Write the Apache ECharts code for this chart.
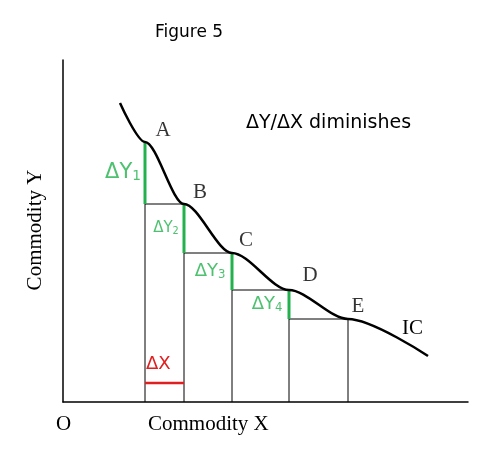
<!DOCTYPE html>
<html>
<head>
<meta charset="utf-8">
<title>Figure 5</title>
<script src="https://cdn.jsdelivr.net/npm/echarts@6/dist/echarts.min.js"></script>
</head>
<body style="margin:0">
<div id="main" style="width:495px;height:451px;"></div>
<script>
// indifference curve points (data units)
var curveX = [57, 82, 121, 169, 226, 285, 365];
var curveY = [299, 260, 198, 149, 112, 83, 46];
var ptNames = ['A', 'B', 'C', 'D', 'E'];
var ptX = [82, 121, 169, 226, 285];
var ptY = [260, 198, 149, 112, 83];
var dyLabels = ['1', '2', '3', '4'];
var dxY = 19;

var chart = echarts.init(document.getElementById('main'));
var serif = 'Liberation Serif';
var sans = 'DejaVu Sans';

var series = [];
function seg(a, b, color, w) {
  series.push({ type: 'line', data: [a, b], symbol: 'none', silent: true,
    lineStyle: { color: color, width: w } });
}
// staircase: verticals down to axis and horizontals
for (var i = 0; i < ptX.length; i++) {
  seg([ptX[i], ptY[i]], [ptX[i], 0], '#000', 1);
  if (i > 0) seg([ptX[i - 1], ptY[i]], [ptX[i], ptY[i]], '#000', 1);
}
// green delta Y segments
for (var i = 0; i < ptX.length - 1; i++) {
  seg([ptX[i], ptY[i]], [ptX[i], ptY[i + 1]], '#22b14c', 3);
}
// red delta X
seg([ptX[0], dxY], [ptX[1], dxY], '#e02020', 2.5);

// curve
series.push({ type: 'line', smooth: 0.3, smoothMonotone: 'x', symbol: 'none', silent: true,
  data: curveX.map(function (x, i) { return [x, curveY[i]]; }),
  lineStyle: { color: '#000', width: 2.5 } });

// point letters
var letterOff = [[18, -12], [16, -12], [14, -13], [21, -15], [10, -13]];
series.push({ type: 'scatter', symbolSize: 0, silent: true,
  data: ptX.map(function (x, i) {
    return { value: [x, ptY[i]], label: { show: true, formatter: ptNames[i],
      offset: letterOff[i], fontFamily: serif, fontSize: 21, color: '#000' } };
  })
});
// delta Y labels
var dyOff = [[-22, 0], [-18, 0], [-22, 0], [-22, 0]];
var dySize = [21, 15, 18, 18];
series.push({ type: 'scatter', symbolSize: 0, silent: true,
  data: dyLabels.map(function (s, i) {
    var fs = dySize[i];
    return { value: [ptX[i], (ptY[i] + ptY[i + 1]) / 2], label: { show: true,
      formatter: '{a|ΔY}{b|' + s + '}', offset: dyOff[i],
      rich: { a: { fontFamily: sans, fontSize: fs, color: '#22b14c' },
              b: { fontFamily: sans, fontSize: fs * 0.65, color: '#22b14c', padding: [fs * 0.35, 0, 0, 0] } } } };
  })
});

var option = {
  animation: false,
  grid: { left: 63, right: 27, top: 60, bottom: 49 },
  xAxis: { type: 'value', min: 0, max: 405, splitLine: { show: false },
    axisTick: { show: false }, axisLabel: { show: false },
    axisLine: { lineStyle: { color: '#000', width: 1.5 } } },
  yAxis: { type: 'value', min: 0, max: 342, splitLine: { show: false },
    axisTick: { show: false }, axisLabel: { show: false },
    axisLine: { lineStyle: { color: '#000', width: 1.5 } } },
  graphic: [
    { type: 'text', left: 155, top: 24, style: { text: 'Figure 5', fontFamily: sans, fontSize: 17, fill: '#000' } },
    { type: 'text', left: 246, top: 114, style: { text: 'ΔY/ΔX diminishes', fontFamily: sans, fontSize: 19, fill: '#000' } },
    { type: 'text', left: 402, top: 318, style: { text: 'IC', fontFamily: serif, fontSize: 21, fill: '#000' } },
    { type: 'text', left: 146, top: 355, style: { text: 'ΔX', fontFamily: sans, fontSize: 18, fill: '#e02020' } },
    { type: 'text', left: 56, top: 414, style: { text: 'O', fontFamily: serif, fontSize: 21, fill: '#000' } },
    { type: 'text', left: 148, top: 414, style: { text: 'Commodity X', fontFamily: serif, fontSize: 21, fill: '#000' } },
    { type: 'text', x: 35, y: 230, rotation: Math.PI / 2,
      style: { text: 'Commodity Y', fontFamily: serif, fontSize: 21, fill: '#000', align: 'center', verticalAlign: 'middle' } }
  ],
  series: series
};
chart.setOption(option);
</script>
</body>
</html>
